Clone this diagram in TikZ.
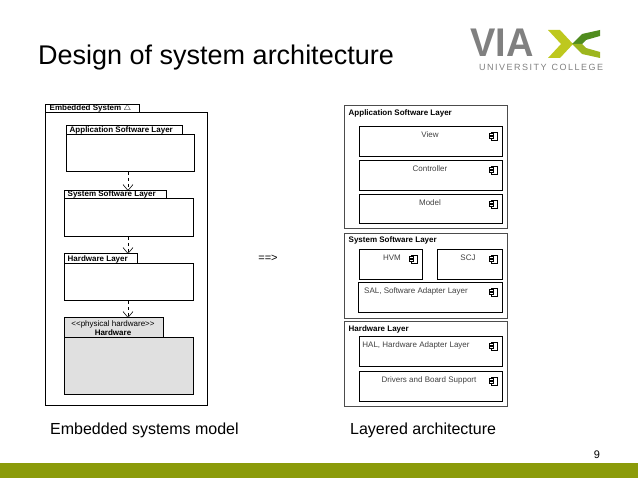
\documentclass[tikz,border=0pt]{standalone}
\usepackage{fontspec}
\setmainfont{Liberation Sans}
\usetikzlibrary{arrows.meta}
\definecolor{olive}{RGB}{139,155,10}
\definecolor{viagrey}{RGB}{128,128,128}
\definecolor{vialime}{RGB}{190,200,30}
\definecolor{viagreen}{RGB}{80,140,30}
\begin{document}
\begin{tikzpicture}[x=1pt,y=-1pt,
  box/.style={draw,line width=1pt},
  obox/.style={draw,line width=0.6pt,black!70},
  tab/.style={font=\fontsize{8}{9}\selectfont\bfseries,anchor=south west,inner sep=1.5pt},
  comp/.style={font=\fontsize{8}{9}\selectfont,text=black!75},
  dep/.style={dashed,line width=0.6pt,-{Straight Barb[length=6pt,width=10pt]}},
  pics/cicon/.style={code={
    \draw[line width=0.5pt] (-2,-4) rectangle (4,4);
    \draw[line width=0.5pt,fill=white] (-4,-2.5) rectangle (0,-0.5) (-4,0.5) rectangle (0,2.5);}}]
\useasboundingbox (0,0) rectangle (638,478);
% title
\node[anchor=west,font=\fontsize{27}{30}\selectfont,inner sep=0] (title) at (38,58) {Design of system architecture};
% logo
\node[anchor=base west,font=\fontsize{40}{40}\selectfont\bfseries,text=viagrey,inner sep=0,xscale=0.95,text depth=0pt] (via) at (470,57) {VIA};
\fill[vialime] (548,30) -- (560,30) -- (573,44) -- (560,58) -- (548,58) -- (561,44) -- cycle;
\fill[viagreen] (572,44) -- (582,34) -- (600,30) -- (600,36) -- (586,40) -- (582,44) -- cycle;
\fill[vialime!70!viagreen] (572,44) -- (582,44) -- (586,48) -- (600,52) -- (600,58) -- (582,54) -- cycle;
\node[anchor=base west,font=\fontsize{9}{10}\selectfont,text=viagrey,inner sep=0,text height=6.5pt] (uc) at (479,71) {U\,N\,I\,V\,E\,R\,S\,I\,T\,Y\ \ C\,O\,L\,L\,E\,G\,E};
% left model
\draw[box] (45,105) rectangle (139,113);
\node[tab] (es) at (48,114) {Embedded System \normalfont$\triangle$};
\draw[box] (45,113) rectangle (207,406);
\draw[box] (66,126) rectangle (182,135);
\node[tab] (asl) at (68,136) {Application Software Layer};
\draw[box] (66,135) rectangle (194,172); \coordinate (a1) at (128,172);
\draw[box] (64,191) rectangle (166,199);
\node[tab] (ssl) at (66,200) {System Software Layer};
\draw[box] (64,199) rectangle (193,237); \coordinate (s0) at (128,191); \coordinate (s1) at (128,237);
\draw[box] (64,254) rectangle (137,264);
\node[tab] (hl) at (66,265) {Hardware Layer};
\draw[box] (64,264) rectangle (193,301); \coordinate (h0) at (128,254); \coordinate (h1) at (128,301);
\draw[box,fill=black!12] (64,318) rectangle (163,338);
\draw[box,fill=black!12] (64,338) rectangle (193,395); \coordinate (p0) at (128,318);
\node[font=\fontsize{8}{9}\selectfont,inner sep=0] (ph) at (113,324) {\mbox{<}\mbox{<}physical hardware\mbox{>}\mbox{>}};
\node[font=\fontsize{8}{9}\selectfont\bfseries,inner sep=0] (hw) at (113,333) {Hardware};
\draw[dep] (a1) -- (s0);
\draw[dep] (s1) -- (h0);
\draw[dep] (h1) -- (p0);
% arrow text
\node[font=\fontsize{11}{11}\selectfont,inner sep=0] (arr) at (268,258) {==>};
% right
\draw[obox] (344,105) rectangle (507,228);
\node[tab,anchor=west] (ra) at (347,113) {Application Software Layer};
\draw[obox] (344,233) rectangle (507,318);
\node[tab,anchor=west] (rs) at (347,240) {System Software Layer};
\draw[obox] (344,321) rectangle (507,406);
\node[tab,anchor=west] (rh) at (347,329) {Hardware Layer};
\foreach \n/\xa/\ya/\xb/\yb/\t/\tx in {v/359/127/502/157/View/430, c/359/161/502/191/Controller/430, m/359/195/502/224/Model/430,
  hvm/359/250/422/280/HVM/392, scj/437/250/502/280/SCJ/468, sal/358/283/502/313/{SAL, Software Adapter Layer}/416,
  hal/359/337/502/367/{HAL, Hardware Adapter Layer}/416, drv/359/372/502/402/{Drivers and Board Support}/429}{
  \draw[box] (\xa,\ya) rectangle (\xb,\yb);
  \node[comp] (\n) at (\tx,\ya+8) {\t};
  \pic at (\xb-9,\ya+9) {cicon};
}
% captions
\node[anchor=west,font=\fontsize{16}{18}\selectfont,inner sep=0] (cap1) at (50,430) {Embedded systems model};
\node[anchor=west,font=\fontsize{16}{18}\selectfont,inner sep=0] (cap2) at (350,430) {Layered architecture};
\node[font=\fontsize{11}{12}\selectfont,inner sep=0] (pg) at (597,455) {9};
\fill[olive] (0,463) rectangle (638,478);
\end{tikzpicture}
\end{document}
